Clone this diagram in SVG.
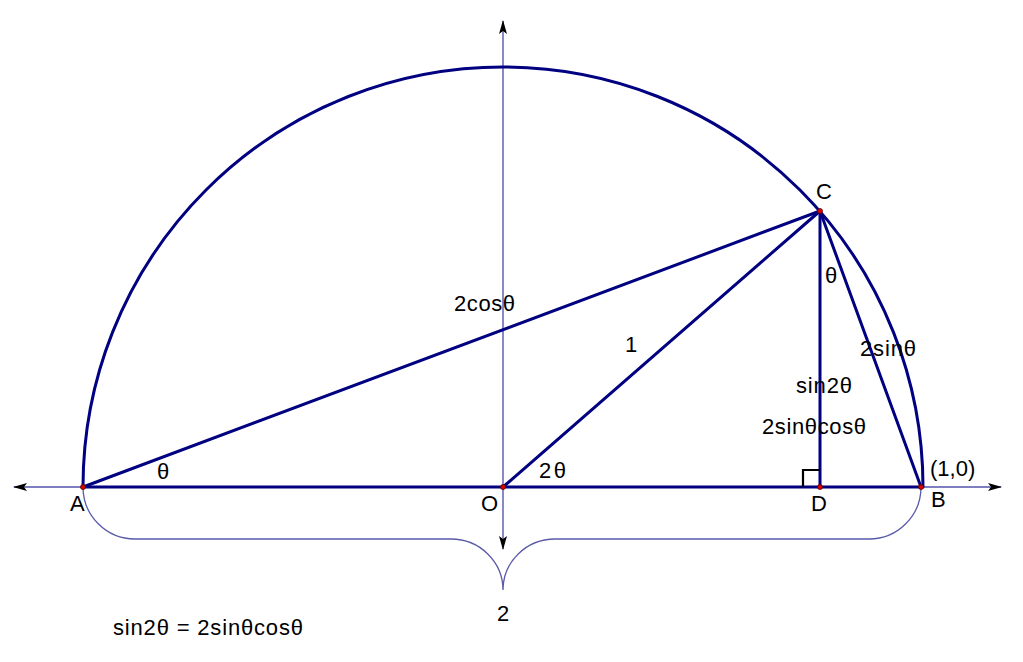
<svg xmlns="http://www.w3.org/2000/svg" width="1023" height="662" viewBox="0 0 1023 662">
<defs>
<style>
.thick{stroke:#000080;stroke-width:3;fill:none;stroke-linecap:round}
.axis{stroke:#000080;stroke-width:1.2;fill:none}
.vaxis{stroke:#3a3aa0;stroke-width:1.2;fill:none}
.brace{stroke:#5a5aaa;stroke-width:1.3;fill:none}
.pt{fill:#dd0000;stroke:#550000;stroke-width:0.8}
.lbl{font-family:"Liberation Sans",Arial,sans-serif;font-size:22px;fill:#000}
</style>
<marker id="arr" viewBox="0 0 14 8" refX="13" refY="4" markerWidth="14" markerHeight="8" markerUnits="userSpaceOnUse" orient="auto">
<path d="M0,0 L14,4 L0,8 L3,4 Z" fill="#000"/>
</marker>
</defs>
<g id="connectors">
<line class="axis" x1="503" y1="487" x2="14" y2="487" marker-end="url(#arr)"/>
<line class="axis" x1="503" y1="487" x2="1001" y2="487" marker-end="url(#arr)"/>
<line class="vaxis" x1="503" y1="487" x2="503" y2="21" marker-end="url(#arr)"/>
<line class="vaxis" x1="503" y1="487" x2="503" y2="549" marker-end="url(#arr)"/>
<path id="semicircle" class="thick" d="M83,487 A420,420 0 0 1 923,487"/>
<line class="thick" x1="83" y1="487" x2="921" y2="487"/>
<line class="thick" x1="83" y1="487" x2="820" y2="211"/>
<line class="thick" x1="503" y1="487" x2="820" y2="211"/>
<line class="thick" x1="820" y1="211" x2="820" y2="487"/>
<line class="thick" x1="820" y1="211" x2="921" y2="487"/>
<path id="right-angle" d="M803,487 V470 H820" fill="none" stroke="#000" stroke-width="2.2"/>
<path id="brace" class="brace" d="M83,487 A52,52 0 0 0 135,539 H451 A52,51 0 0 1 503,590 A52,51 0 0 1 555,539 H869 A52,52 0 0 0 921,487"/>
</g>
<g id="A"><circle class="pt" cx="83" cy="487" r="2.5"/><text class="lbl" x="70" y="511">A</text></g>
<g id="O"><circle class="pt" cx="503" cy="487" r="2.5"/><text class="lbl" x="481" y="511">O</text></g>
<g id="D"><circle class="pt" cx="820" cy="487" r="2.5"/><text class="lbl" x="811" y="511">D</text></g>
<g id="B"><circle class="pt" cx="921" cy="487" r="2.5"/><text class="lbl" x="931" y="507">B</text></g>
<g id="C"><circle class="pt" cx="820" cy="211" r="2.5"/><text class="lbl" x="816" y="199">C</text></g>
<g id="labels">
<text class="lbl" x="930" y="476">(1,0)</text>
<text class="lbl" x="454" y="311" textLength="61" lengthAdjust="spacing">2cosθ</text>
<text class="lbl" x="625" y="352">1</text>
<text class="lbl" x="825" y="283">θ</text>
<text class="lbl" x="860" y="356" textLength="56" lengthAdjust="spacing">2sinθ</text>
<text class="lbl" x="796" y="393" textLength="56" lengthAdjust="spacing">sin2θ</text>
<text class="lbl" x="762" y="434" textLength="104" lengthAdjust="spacing">2sinθcosθ</text>
<text class="lbl" x="157" y="479">θ</text>
<text class="lbl" x="539" y="478" textLength="27" lengthAdjust="spacing">2θ</text>
<text class="lbl" x="497" y="621">2</text>
<text class="lbl" x="113" y="635" textLength="190" lengthAdjust="spacing">sin2θ = 2sinθcosθ</text>
</g>
</svg>
